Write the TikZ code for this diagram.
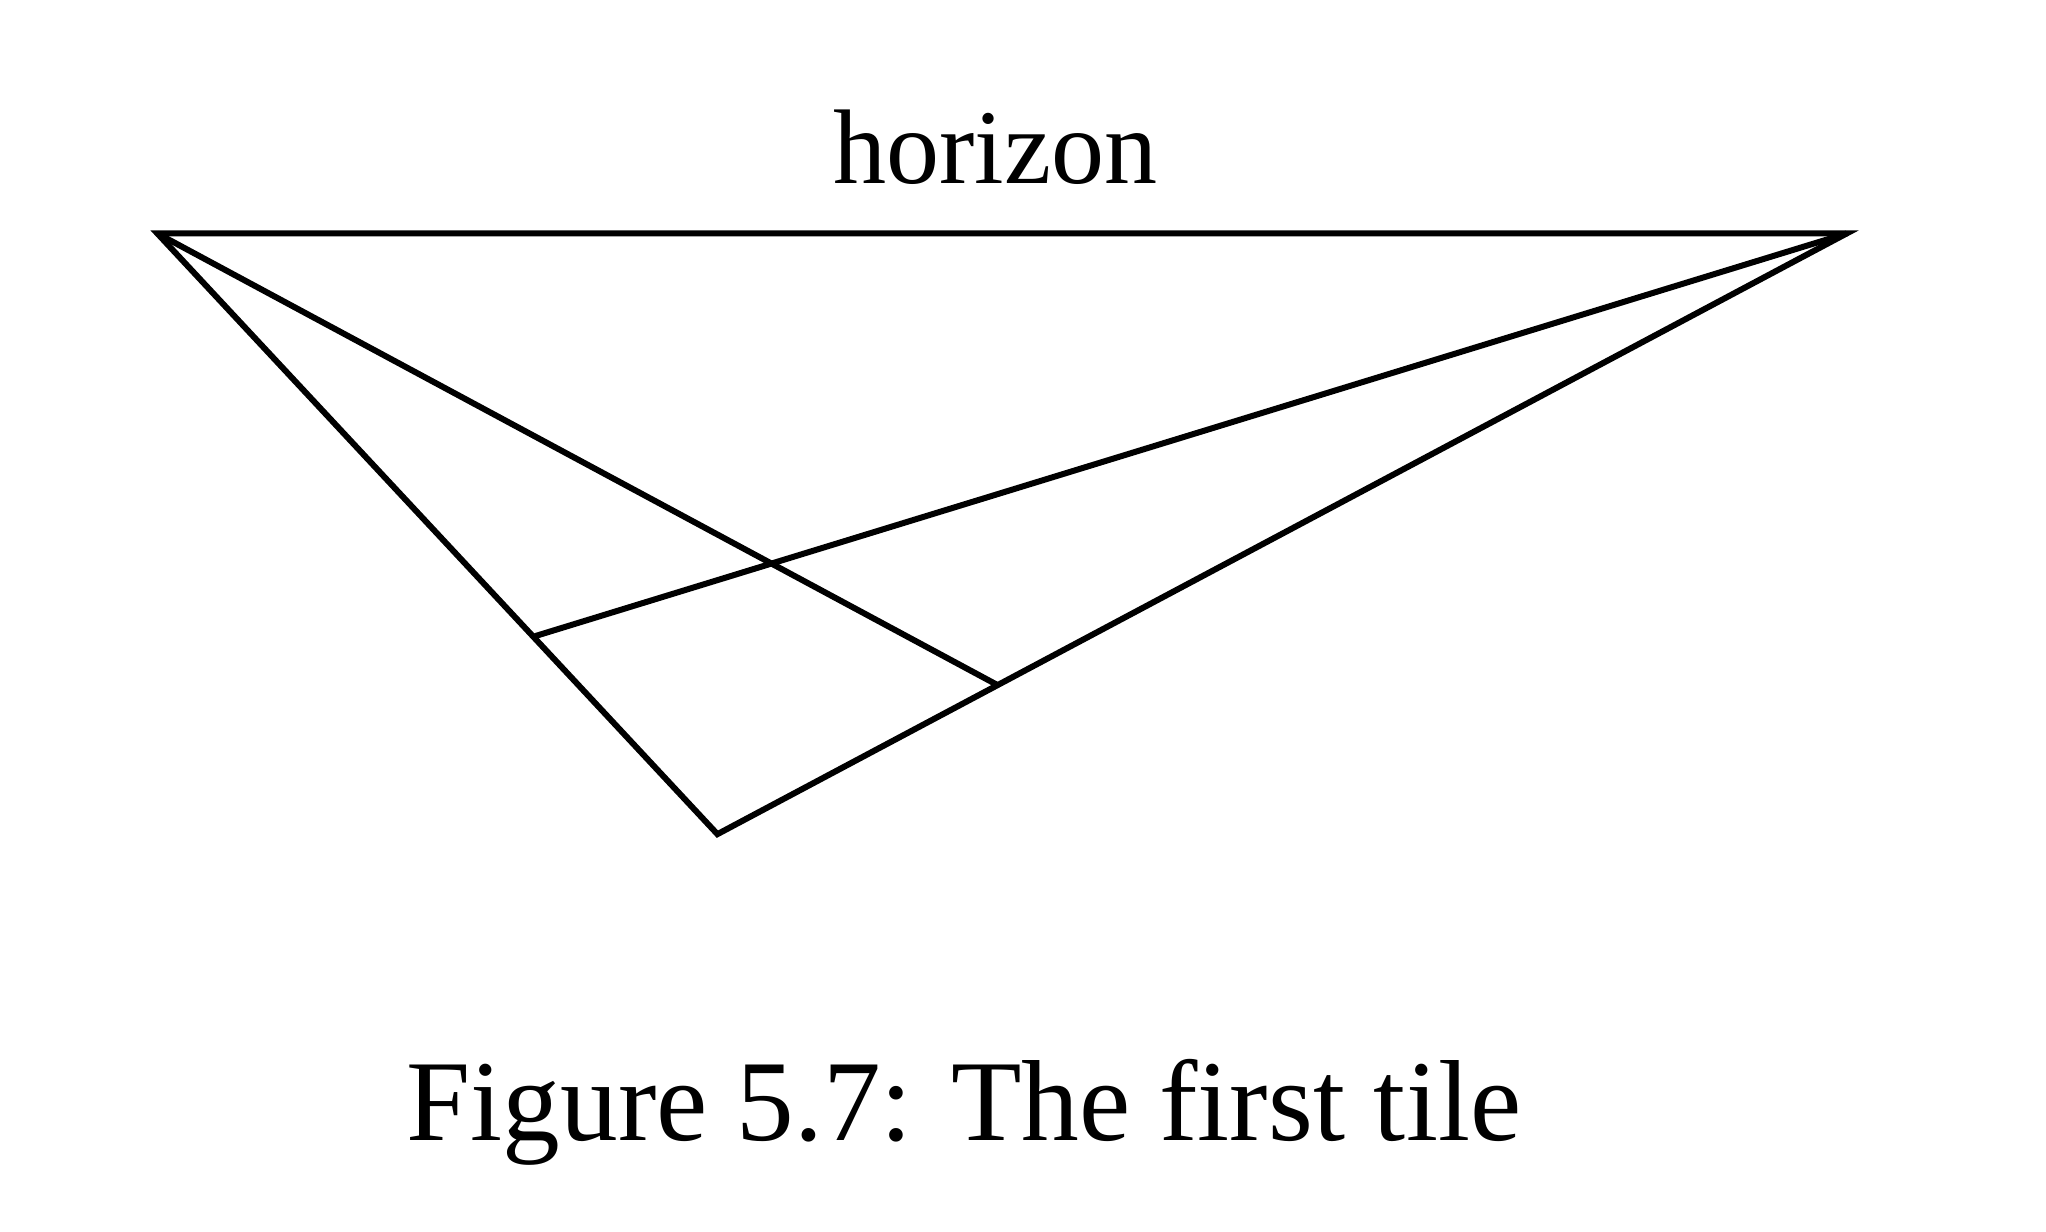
\documentclass[tikz,border=0pt]{standalone}
\usepackage{fontspec}
\setmainfont{Liberation Serif}
\begin{document}
\begin{tikzpicture}[x=0.01cm,y=-0.01cm,line width=1.3pt,line join=miter]
\useasboundingbox (0,0) rectangle (1560,938.6);
\coordinate (L) at (120,178);
\coordinate (R) at (1408,178);
\coordinate (B) at (547,636);
\coordinate (P) at (408,485);
\coordinate (Q) at (760,522);
\draw (L) -- (R) -- (B) -- cycle;
\draw (L) -- (Q);
\draw (R) -- (P);
\node[font=\fontsize{23}{27}\selectfont] (h) at (759,112) {horizon};
\node[font=\fontsize{25}{30}\selectfont] (c) at (735,848) {Figure 5.7: The first tile};
\end{tikzpicture}
\end{document}
